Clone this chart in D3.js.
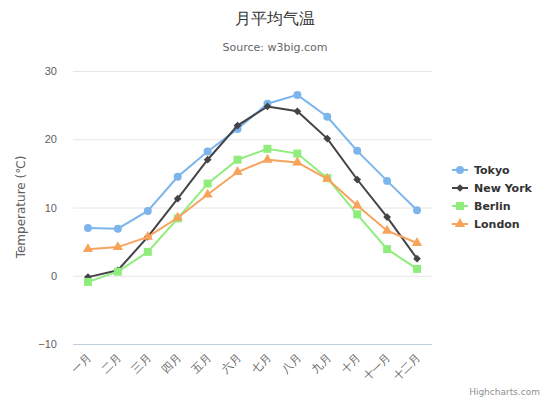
<!DOCTYPE html>
<html><head><meta charset="utf-8">
<script src="https://cdn.jsdelivr.net/npm/d3@7"></script>
<style>body{margin:0;background:#fff}svg{font-family:"DejaVu Sans","Lucida Grande",Arial,sans-serif}</style>
</head><body><svg id="c" width="550" height="400"></svg>
<script>
const categories = ["一月","二月","三月","四月","五月","六月","七月","八月","九月","十月","十一月","十二月"];
const tokyo   = [7.0, 6.9, 9.5, 14.5, 18.2, 21.5, 25.2, 26.5, 23.3, 18.3, 13.9, 9.6];
const newYork = [-0.2, 0.8, 5.7, 11.3, 17.0, 22.0, 24.8, 24.1, 20.1, 14.1, 8.6, 2.5];
const berlin  = [-0.9, 0.6, 3.5, 8.4, 13.5, 17.0, 18.6, 17.9, 14.3, 9.0, 3.9, 1.0];
const london  = [3.9, 4.2, 5.7, 8.5, 11.9, 15.2, 17.0, 16.6, 14.2, 10.3, 6.6, 4.8];
const yTicks = [-10, 0, 10, 20, 30];
const seriesNames = ["Tokyo","New York","Berlin","London"];

const series = [
  {name: seriesNames[0], data: tokyo, color: "#7cb5ec", sym: d3.symbolCircle, size: 50, rot: 0},
  {name: seriesNames[1], data: newYork, color: "#434348", sym: d3.symbolSquare, size: 30, rot: 45},
  {name: seriesNames[2], data: berlin, color: "#90ed7d", sym: d3.symbolSquare, size: 64, rot: 0},
  {name: seriesNames[3], data: london, color: "#f7a35c", sym: d3.symbolTriangle, size: 45, rot: 0}
];

const svg = d3.select("#c");
const L = 73, R = 432, T = 71, B = 344;
const x = d3.scaleBand().domain(categories).range([L, R]);
const y = d3.scaleLinear().domain([-10, 30]).range([B, T]);

// title
svg.append("text").attr("x", 275).attr("y", 24).attr("text-anchor","middle")
  .attr("fill","#333").style("font-size","16px").text("月平均气温");
svg.append("text").attr("x", 275).attr("y", 51).attr("text-anchor","middle")
  .attr("fill","#666").style("font-size","11px").text("Source: w3big.com");

// grid
const gy = svg.append("g").attr("transform", `translate(${L},0)`)
  .call(d3.axisLeft(y).tickValues(yTicks).tickSize(-(R-L)).tickFormat(d => d === -10 ? "−10" : d));
gy.select(".domain").remove();
gy.selectAll(".tick line").attr("stroke", d => d === -10 ? "#c0d0e0" : "#e6e6e6");
gy.selectAll(".tick text").attr("x", -16).attr("fill","#606060").style("font-size","11px").style("font-family","inherit");

// y title
svg.append("text").attr("transform","translate(25,207) rotate(-90)").attr("text-anchor","middle")
  .attr("fill","#606060").style("font-size","12px").text("Temperature (℃)");

// x axis labels
const gx = svg.append("g").attr("transform", `translate(0,${B})`)
  .call(d3.axisBottom(x).tickSize(0).tickPadding(0));
gx.select(".domain").remove();
gx.selectAll(".tick text").attr("text-anchor","end").attr("dy",0).attr("y",0)
  .attr("transform","translate(4,14) rotate(-45)")
  .attr("fill","#666").style("font-size","11px").style("font-family","inherit");

// lines
const cx = c => x(c) + x.bandwidth()/2;
series.forEach(s => {
  const g = svg.append("g");
  g.append("path").datum(s.data)
    .attr("d", d3.line().x((d,i) => cx(categories[i])).y(d => y(d)))
    .attr("fill","none").attr("stroke", s.color).attr("stroke-width", 2);
  g.selectAll("path.m").data(s.data).join("path").attr("class","m")
    .attr("transform",(d,i)=>`translate(${cx(categories[i])},${y(d)}) rotate(${s.rot})`)
    .attr("d", d3.symbol().type(s.sym).size(s.size)).attr("fill", s.color);
});

// legend
const lg = svg.append("g");
series.forEach((s,i) => {
  const yy = 170 + i*18;
  lg.append("line").attr("x1",452).attr("x2",468).attr("y1",yy).attr("y2",yy)
    .attr("stroke",s.color).attr("stroke-width",2);
  lg.append("path").attr("transform",`translate(460,${yy}) rotate(${s.rot})`)
    .attr("d", d3.symbol().type(s.sym).size(s.size)).attr("fill", s.color);
  lg.append("text").attr("x",474).attr("y",yy+4).attr("fill","#333")
    .style("font-size","11px").style("font-weight","bold").text(s.name);
});

svg.append("text").attr("x",540).attr("y",395).attr("text-anchor","end")
  .attr("fill","#909090").style("font-size","9px").text("Highcharts.com");
</script></body></html>
